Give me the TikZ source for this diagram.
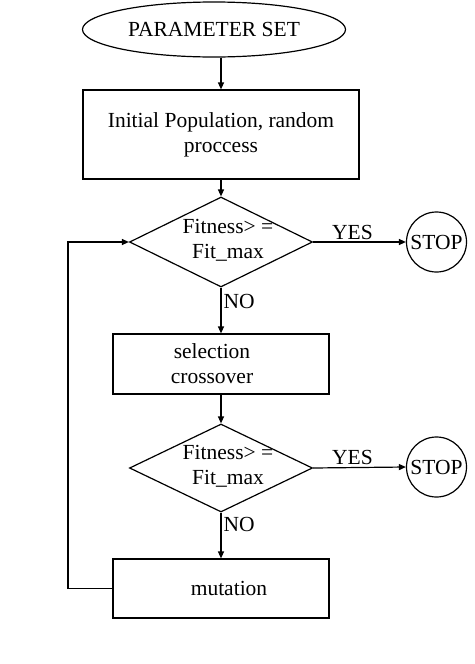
\documentclass[tikz,border=0pt]{standalone}
\usepackage{fontspec}
\setmainfont{Liberation Serif}
\usetikzlibrary{shapes.geometric,arrows.meta}
\begin{document}
\begin{tikzpicture}[x=1pt,y=-1pt,
  every node/.style={font=\fontsize{21.5}{25}\selectfont, inner sep=0pt},
  ln/.style={line width=1.2pt},
  arr/.style={ln,-{Triangle[length=7pt,width=6pt]}},
  proc/.style={draw,ln,rectangle,align=center},
  dec/.style={draw,ln,diamond,aspect=2},
  stopc/.style={draw,ln,circle,minimum size=60pt},
  lbl/.style={}
]
\useasboundingbox (0,0) rectangle (474,664);
\node[draw,ln,ellipse,minimum width=263pt,minimum height=55pt] (ell) at (214,29.5) {PARAMETER SET};
\node[proc,minimum width=276pt,minimum height=89pt] (box1) at (221,134.5) {Initial Population, random\\proccess};
\node[dec,minimum width=183pt,minimum height=90pt] (dia1) at (221,242) {};
\node[align=center] (t1) at (228,240) {Fitness> =\\Fit\_max};
\node[stopc] (stop1) at (436.5,242) {STOP};
\node[proc,minimum width=216pt,minimum height=60pt] (box2) at (221,364) {\hspace*{-18pt}selection\\\hspace*{-18pt}crossover};
\node[dec,minimum width=183pt,minimum height=88pt] (dia2) at (221,468) {};
\node[align=center] (t2) at (228,466) {Fitness> =\\Fit\_max};
\node[stopc] (stop2) at (436.5,467) {STOP};
\node[proc,minimum width=216pt,minimum height=59pt] (box3) at (221,588.5) {\hspace*{16pt}mutation};
\coordinate (fb) at (68,588.5);
\draw[arr] (ell.south -| box1.north) -- (box1.north);
\draw[arr] (box1.south) -- (dia1.north);
\draw[arr] (dia1.east) -- node[lbl,above=2pt,xshift=-7pt] (yes1) {YES} (stop1.west);
\draw[arr] (dia1.south) -- node[lbl,pos=0.3,right=2pt] (no1) {NO} (box2.north);
\draw[arr] (box2.south) -- (dia2.north);
\draw[arr] (dia2.east) -- node[lbl,above=2pt,xshift=-7pt] (yes2) {YES} (stop2.west);
\draw[arr] (dia2.south) -- node[lbl,pos=0.25,right=2pt] (no2) {NO} (box3.north);
\draw[arr] (box3.west) -- (fb) |- (dia1.west);
\end{tikzpicture}
\end{document}
